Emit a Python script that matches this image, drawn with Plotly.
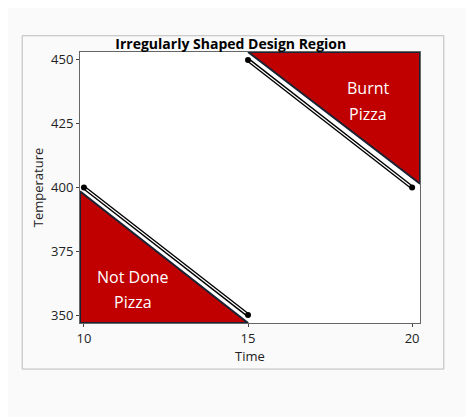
import plotly.graph_objects as go

# design region data
time_pts = [10, 15]
temp_pts = [400, 350]
time_pts2 = [15, 20]
temp_pts2 = [450, 400]

low_x = [9.88, 9.88, 15.0, 9.88]
low_y = [398.5, 346.9, 346.9, 398.5]
high_x = [15.0, 20.24, 20.24, 15.0]
high_y = [453.1, 453.1, 401.5, 453.1]

red = '#c00000'
navy = '#1a2233'

fig = go.Figure()

for xs, ys in [(low_x, low_y), (high_x, high_y)]:
    fig.add_trace(go.Scatter(x=xs, y=ys, mode='lines', fill='toself', fillcolor=red,
                             line=dict(color=navy, width=2), showlegend=False, hoverinfo='skip'))

for xs, ys in [(time_pts, temp_pts), (time_pts2, temp_pts2)]:
    fig.add_trace(go.Scatter(x=xs, y=ys, mode='lines', line=dict(color='black', width=4),
                             showlegend=False))
    fig.add_trace(go.Scatter(x=xs, y=ys, mode='lines', line=dict(color='white', width=1.2),
                             showlegend=False))
    fig.add_trace(go.Scatter(x=xs, y=ys, mode='markers', marker=dict(color='black', size=6),
                             showlegend=False))

fnt = dict(color='white', size=16, family='Open Sans')
fig.add_annotation(x=11.5, y=365, text='Not Done', showarrow=False, font=fnt)
fig.add_annotation(x=11.5, y=355, text='Pizza', showarrow=False, font=fnt)
fig.add_annotation(x=18.66, y=439, text='Burnt', showarrow=False, font=fnt)
fig.add_annotation(x=18.66, y=429, text='Pizza', showarrow=False, font=fnt)

fig.update_layout(
    width=474, height=417,
    margin=dict(l=72, r=62, t=44, b=102),
    paper_bgcolor='#fafafa', plot_bgcolor='white',
    title=dict(text='<b>Irregularly Shaped Design Region</b>', x=0.47, y=0.925, yanchor='top',
               font=dict(size=14, color='black', family='Open Sans')),
    font=dict(family='Open Sans', size=13, color='#222'),
    xaxis=dict(range=[9.88, 20.24], tickvals=[10, 15, 20], showgrid=False, zeroline=False,
               showline=True, linecolor='#666', mirror=True, ticks='outside', ticklen=3,
               title=dict(text='Time', standoff=4, font=dict(size=13))),
    yaxis=dict(range=[346.9, 453.1], tickvals=[350, 375, 400, 425, 450], showgrid=False,
               zeroline=False, showline=True, linecolor='#666', mirror=True, ticks='outside',
               ticklen=3, title=dict(text='Temperature', standoff=4, font=dict(size=13))),
)
fig.add_shape(type='rect', xref='paper', yref='paper', x0=-0.17, x1=1.07, y0=-0.17, y1=1.06,
              line=dict(color='#bbbbbb', width=1))

fig.write_html("out.html")
